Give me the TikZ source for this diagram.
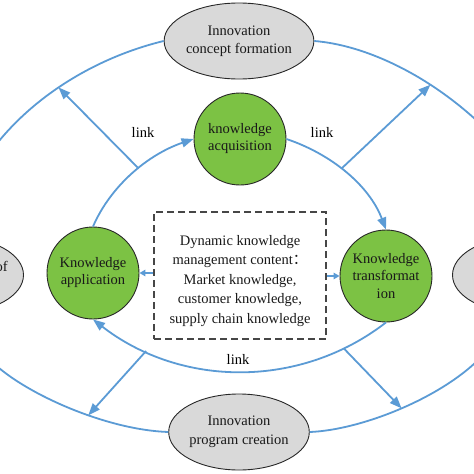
\documentclass[tikz,border=0pt]{standalone}
\usepackage{fontspec}
\setmainfont{Liberation Serif}
\newfontfamily\cjkfont{Noto Sans CJK SC}
\usetikzlibrary{arrows.meta,shapes.geometric}
\definecolor{flowblue}{RGB}{91,155,213}
\definecolor{kgreen}{RGB}{124,194,68}
\definecolor{egray}{RGB}{217,217,217}
\definecolor{edgec}{RGB}{40,40,40}
\definecolor{dashc}{RGB}{70,70,70}
\begin{document}
\begin{tikzpicture}[x=1pt,y=-1pt,
  txt/.style={font=\fontsize{14.5}{17}\selectfont, align=center, text=black!90},
  kcircle/.style={circle, draw=edgec, line width=0.9pt, fill=kgreen, minimum size=92pt, inner sep=0pt, txt},
  iell/.style={ellipse, draw=edgec, line width=0.9pt, fill=egray, minimum width=137pt, minimum height=76pt, inner sep=0pt, txt, font=\fontsize{14.5}{18.5}\selectfont},
  flow/.style={draw=flowblue, line width=1.8pt, -{Triangle[length=12pt,width=9pt]}},
  flowline/.style={draw=flowblue, line width=1.8pt},
  smallarrow/.style={draw=flowblue, line width=1.4pt, -{Triangle[length=6pt,width=6.5pt]}},
  linklbl/.style={font=\fontsize{14.5}{17}\selectfont},
  dbox/.style={draw=dashc, line width=1.1pt, dash pattern=on 7pt off 4pt, minimum width=172pt, minimum height=127pt, inner sep=0pt}
]
\useasboundingbox (0,0) rectangle (474,474);
\fill[white] (0,0) rectangle (474,474);
\clip (0,0) rectangle (474,474);

% nodes
\node[iell] (topE) at (239,41) {Innovation\\concept formation};
\node[iell] (botE) at (239,432) {Innovation\\program creation};
\node[iell] (leftE) at (-45,275) {};
\node[iell] (rightE) at (521,275) {};
\node[txt, anchor=east, inner sep=0pt] (ofl) at (8,266) {of};

\node[kcircle] (acq) at (240,139) {knowledge\\acquisition};
\node[kcircle] (app) at (93,273) {Knowledge\\application};
\node[kcircle, font=\fontsize{14.5}{17.5}\selectfont] (trans) at (386,276) {Knowledge\\transformat\\ion};

\node[dbox] (box) at (240,275.5) {};
\node[txt, font=\fontsize{14.5}{19.5}\selectfont] (boxtxt) at (240,281) {Dynamic knowledge\\management content{\cjkfont ：}\\Market knowledge,\\customer knowledge,\\supply chain knowledge};

\node[linklbl] (l1) at (143,132) {link};
\node[linklbl] (l2) at (322,132) {link};
\node[linklbl] (l3) at (238,359) {link};

% border coordinates
\coordinate (eTL) at (-1,141);
\coordinate (eTR) at (475,119);
\coordinate (eBL) at (-1,368);
\coordinate (eBR) at (475,363);

% outer arcs
\draw[flowline] (topE.west) .. controls (101.4,56.1) and (40.3,91) .. (eTL) coordinate[pos=0.59] (oTL);
\draw[flowline] (topE.east) .. controls (364,45) and (424,73) .. (eTR) coordinate[pos=0.72] (oTR);
\draw[flowline] (eBL) .. controls (35,398) and (110,430) .. (botE.west) coordinate[pos=0.57] (oBL);
\draw[flowline] (botE.east) .. controls (360,430) and (435,400) .. (eBR) coordinate[pos=0.53] (oBR);

% inner arcs
\draw[flow] (app.north) .. controls (111,185) and (149,154) .. (acq.west) coordinate[pos=0.55] (iTL);
\draw[flow] (acq.east) .. controls (331,154) and (369,185) .. (trans.north) coordinate[pos=0.45] (iTR);
\draw[flow] (trans.south) .. controls (300,389) and (181,387.5) .. (app.south) coordinate[pos=0.81] (iBL) coordinate[pos=0.155] (iBR);

% cross arrows
\draw[flow] (iTL) -- (oTL);
\draw[flow] (iTR) -- (oTR);
\draw[flow] (iBL) -- (oBL);
\draw[flow] (iBR) -- (oBR);

% box arrows
\draw[smallarrow] (app.east -| box.west) -- (app.east);
\draw[smallarrow] (trans.west -| box.east) -- (trans.west);
\end{tikzpicture}
\end{document}
